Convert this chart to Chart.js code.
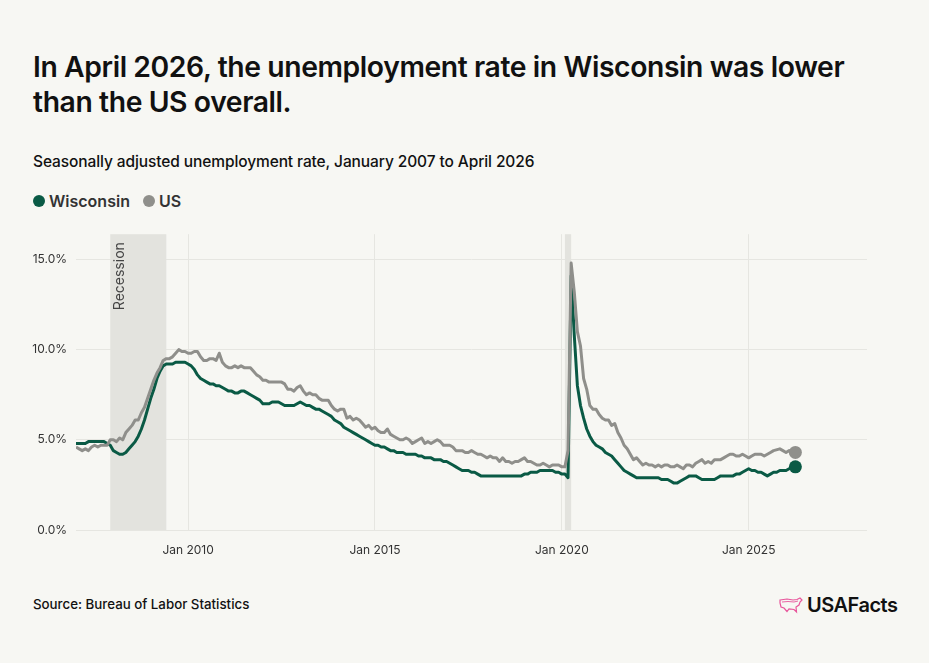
<!DOCTYPE html>
<html><head><meta charset="utf-8">
<script src="https://cdn.jsdelivr.net/npm/chart.js@4.4.1/dist/chart.umd.min.js"></script>
<style>
html,body{margin:0;padding:0;background:#f7f7f3;}
body{width:929px;height:663px;position:relative;overflow:hidden;font-family:Inter,"Noto Sans",sans-serif;color:#111;}
#title{position:absolute;left:33px;top:50px;width:840px;font-size:28.3px;font-weight:600;line-height:35px;letter-spacing:-0.4px;}
#subtitle{position:absolute;left:33px;top:152px;font-size:15.5px;font-weight:500;line-height:20px;letter-spacing:-0.1px;}
#legend{position:absolute;left:33px;top:191px;font-size:16px;font-weight:600;line-height:20px;display:flex;align-items:center;color:#333;}
.dot{width:12px;height:12px;border-radius:50%;display:inline-block;margin-right:4px;}
#chartwrap{position:absolute;left:0;top:218px;width:929px;height:353px;}
#source{position:absolute;left:33px;top:595px;font-size:13.3px;font-weight:500;line-height:18px;}
#logo{position:absolute;left:779px;top:593px;display:flex;align-items:center;font-size:20px;font-weight:600;letter-spacing:-0.5px;line-height:24px;}
</style>
</head>
<body>
<div id="title">In April 2026, the unemployment rate in Wisconsin was lower than the US overall.</div>
<div id="subtitle">Seasonally adjusted unemployment rate, January 2007 to April 2026</div>
<div id="legend"><span class="dot" style="background:#0a5a45"></span>Wisconsin<span class="dot" style="background:#8f8f8b;margin-left:13px"></span>US</div>
<div id="chartwrap"><canvas id="c"></canvas></div>
<div id="source">Source: Bureau of Labor Statistics</div>
<div id="logo"><svg width="24" height="17" viewBox="0 0 24 17" style="margin-right:4px"><path d="M1 3 L8 2 L14 3 L18 2.5 L21 1 L23 3 L21 5 L20 8 L17 10 L17.5 15 L15 12.5 L10 12 L8 14.5 L5 11 L2 10 L1 6 Z" fill="none" stroke="#e8559b" stroke-width="1.2"/><path d="M3 5 L9 4.5 L15 5 L19 4" fill="none" stroke="#e8559b" stroke-width="0.9"/></svg>USAFacts</div>
<script>
// Monthly, January 2007 (index 0) to April 2026
const startYear = 2007;
const wisconsin = [
4.8,4.8,4.8,4.8,4.9,4.9,4.9,4.9,4.9,4.9,4.8,4.7,
4.4,4.3,4.2,4.2,4.3,4.5,4.7,4.9,5.2,5.6,6.1,6.7,
7.3,7.8,8.4,8.8,9.1,9.2,9.2,9.2,9.3,9.3,9.3,9.3,
9.2,9.1,8.9,8.6,8.4,8.3,8.2,8.1,8.1,8.0,8.0,7.9,
7.8,7.7,7.7,7.6,7.6,7.7,7.7,7.6,7.5,7.4,7.3,7.2,
7.0,7.0,7.0,7.1,7.1,7.1,7.0,6.9,6.9,6.9,6.9,7.0,
7.1,7.0,6.9,6.9,6.8,6.7,6.7,6.6,6.5,6.4,6.3,6.1,
6.0,5.9,5.7,5.6,5.5,5.4,5.3,5.2,5.1,5.0,4.9,4.8,
4.7,4.7,4.6,4.6,4.5,4.4,4.4,4.3,4.3,4.3,4.2,4.2,
4.2,4.2,4.1,4.1,4.0,4.0,4.0,3.9,3.9,3.9,3.8,3.8,
3.7,3.6,3.5,3.4,3.3,3.3,3.3,3.2,3.2,3.1,3.0,3.0,
3.0,3.0,3.0,3.0,3.0,3.0,3.0,3.0,3.0,3.0,3.0,3.0,
3.1,3.1,3.2,3.2,3.2,3.3,3.3,3.3,3.3,3.3,3.2,3.2,
3.1,3.1,2.9,14.1,10.8,8.0,6.9,6.2,5.6,5.2,4.9,4.7,
4.6,4.5,4.3,4.2,4.1,3.9,3.7,3.5,3.3,3.2,3.1,3.0,
2.9,2.9,2.9,2.9,2.9,2.9,2.9,2.9,2.8,2.8,2.8,2.7,
2.6,2.6,2.7,2.8,2.9,3.0,3.0,3.0,2.9,2.8,2.8,2.8,
2.8,2.8,2.9,3.0,3.0,3.0,3.0,3.0,3.1,3.1,3.2,3.3,
3.4,3.3,3.3,3.2,3.2,3.1,3.0,3.1,3.2,3.2,3.3,3.3,
3.3,3.4,3.5,3.5
];
const us = [
4.6,4.5,4.4,4.5,4.4,4.6,4.7,4.6,4.7,4.7,4.7,5.0,
5.0,4.9,5.1,5.0,5.4,5.6,5.8,6.1,6.1,6.5,6.8,7.3,
7.8,8.3,8.7,9.0,9.4,9.5,9.5,9.6,9.8,10.0,9.9,9.9,
9.8,9.8,9.9,9.9,9.6,9.4,9.4,9.5,9.5,9.4,9.8,9.3,
9.1,9.0,9.0,9.1,9.0,9.1,9.0,9.0,9.0,8.8,8.6,8.5,
8.3,8.3,8.2,8.2,8.2,8.2,8.2,8.1,7.8,7.8,7.7,7.9,
8.0,7.7,7.5,7.6,7.5,7.5,7.3,7.2,7.2,7.2,6.9,6.7,
6.6,6.7,6.7,6.2,6.3,6.1,6.2,6.1,5.9,5.7,5.8,5.6,
5.7,5.5,5.4,5.4,5.6,5.3,5.2,5.1,5.0,5.0,5.1,5.0,
4.8,4.9,5.0,5.1,4.8,4.9,4.8,4.9,5.0,4.9,4.7,4.7,
4.7,4.6,4.4,4.4,4.4,4.3,4.3,4.4,4.3,4.2,4.2,4.1,
4.0,4.1,4.0,4.0,3.8,4.0,3.8,3.8,3.7,3.8,3.8,3.9,
4.0,3.8,3.8,3.7,3.6,3.6,3.7,3.6,3.5,3.6,3.6,3.6,
3.5,3.5,4.4,14.8,13.2,11.0,10.2,8.4,7.8,6.9,6.7,6.7,
6.4,6.2,6.1,6.1,5.8,5.9,5.4,5.1,4.7,4.5,4.2,3.9,
4.0,3.8,3.6,3.7,3.6,3.6,3.5,3.6,3.5,3.6,3.6,3.5,
3.5,3.6,3.5,3.4,3.6,3.6,3.5,3.7,3.8,3.9,3.7,3.8,
3.7,3.9,3.9,3.9,4.0,4.1,4.2,4.2,4.1,4.1,4.2,4.1,
4.0,4.1,4.2,4.2,4.2,4.1,4.2,4.3,4.4,null,4.5,4.4,
4.3,4.4,4.3,4.3
];
const xTickMonths = [36, 96, 156, 216];
const xTickLabels = ['Jan 2010', 'Jan 2015', 'Jan 2020', 'Jan 2025'];
const yTicks = [0, 5, 10, 15];
const recessions = [[11, 29], [157, 159]]; // month indices: Dec 2007–Jun 2009, Feb–Apr 2020

const GREEN = '#0a5a45', GREY = '#8f8f8b', GRID = '#e6e6e1';

const bandPlugin = {
  id: 'bands',
  beforeDatasetsDraw(chart) {
    const {ctx, chartArea: a, scales: {x}} = chart;
    ctx.save();
    ctx.fillStyle = '#e3e3de';
    recessions.forEach(([s, e]) => {
      const x0 = x.getPixelForValue(s), x1 = x.getPixelForValue(e);
      ctx.fillRect(x0, a.top, x1 - x0, a.bottom - a.top);
    });
    const x0 = x.getPixelForValue(recessions[0][0]);
    ctx.translate(x0 + 9.5, a.top + 8);
    ctx.rotate(-Math.PI / 2);
    ctx.font = '400 14px Inter, "Noto Sans", sans-serif';
    ctx.fillStyle = '#444';
    ctx.textAlign = 'right';
    ctx.textBaseline = 'middle';
    ctx.fillText('Recession', 0, 0);
    ctx.restore();
  }
};

function lastDot(arr, r) {
  return c => (c.dataIndex === arr.length - 1 ? r : 0);
}

new Chart(document.getElementById('c'), {
  type: 'line',
  data: {
    datasets: [
      { label: 'Wisconsin', data: wisconsin.map((v, i) => ({x: i, y: v})),
        borderColor: GREEN, backgroundColor: GREEN, borderWidth: 3,
        pointRadius: lastDot(wisconsin, 6.5), pointBorderWidth: 0, pointBackgroundColor: GREEN,
        tension: 0, order: 2, borderJoinStyle: 'round' },
      { label: 'US', data: us.map((v, i) => ({x: i, y: v})),
        borderColor: GREY, backgroundColor: GREY, borderWidth: 3,
        pointRadius: lastDot(us, 6.5), pointBorderWidth: 0, pointBackgroundColor: GREY,
        tension: 0, order: 1, spanGaps: true, borderJoinStyle: 'round' }
    ]
  },
  options: {
    responsive: true, maintainAspectRatio: false, animation: false,
    layout: { padding: { top: 0, right: 62, left: 0, bottom: 0 } },
    plugins: { legend: { display: false }, tooltip: { enabled: false } },
    scales: {
      x: {
        type: 'linear', min: 0, max: 254,
        afterBuildTicks: s => { s.ticks = xTickMonths.map(v => ({value: v})); },
        afterFit: s => { s.height = 41; },
        ticks: { callback: v => xTickLabels[xTickMonths.indexOf(v)], autoSkip: false, maxRotation: 0,
                 font: { family: 'Inter', size: 12 }, color: '#333', padding: 13 },
        grid: { color: GRID, drawTicks: false, lineWidth: 1 },
        border: { display: false }
      },
      y: {
        min: 0, max: 16.4,
        afterBuildTicks: s => { s.ticks = yTicks.map(v => ({value: v})); },
        afterFit: s => { s.width = 76; },
        ticks: { callback: v => v.toFixed(1) + '%', font: { family: 'Inter', size: 12 }, color: '#333', padding: 9 },
        grid: { color: GRID, drawTicks: false, lineWidth: 1 },
        border: { display: false }
      }
    }
  },
  plugins: [bandPlugin]
});
</script>
</body></html>
